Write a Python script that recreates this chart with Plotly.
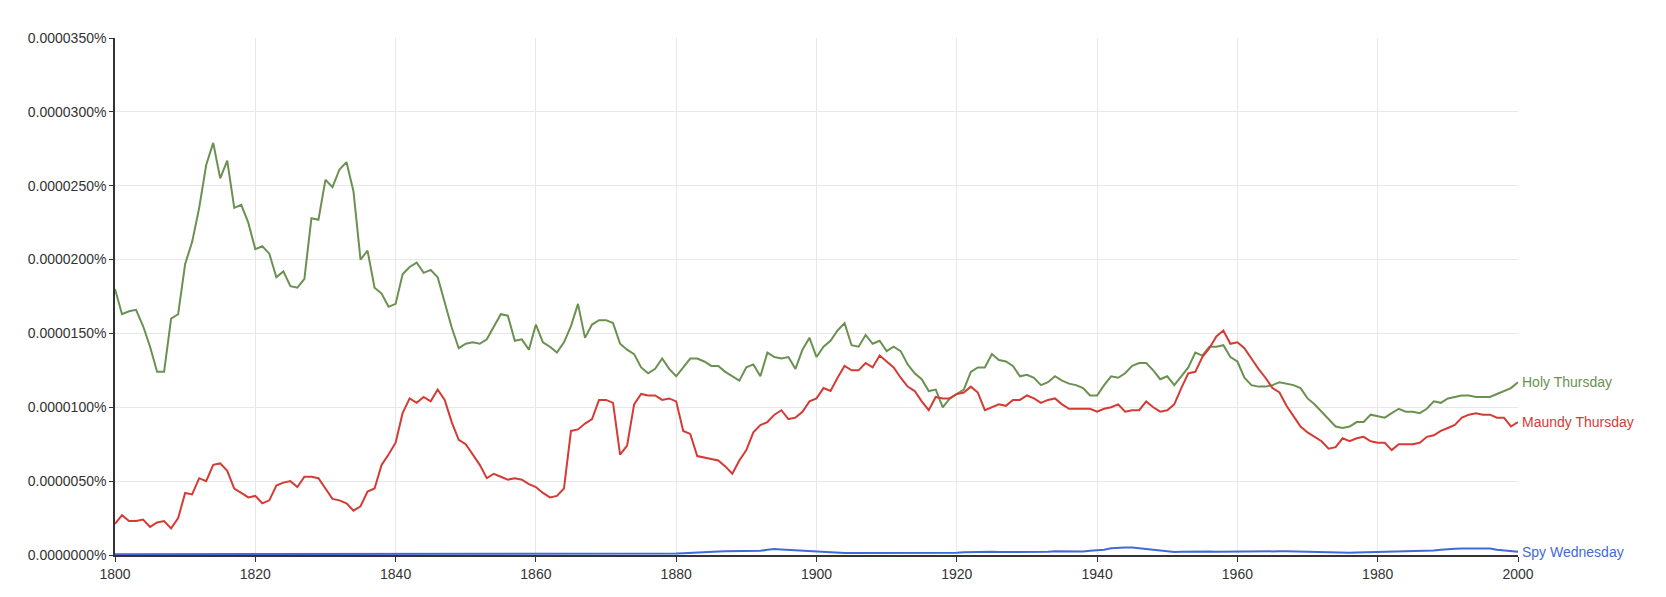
import plotly.graph_objects as go

years = list(range(1800, 2001))
# values in units of 1e-7 percent
holy = [180,163,165,166,155,141,124,124,160,163,197,212,235,264,279,255,267,235,237,225,
        207,209,204,188,192,182,181,187,228,227,254,249,261,266,246,200,206,181,177,168,
        170,190,195,198,191,193,188,171,154,140,143,144,143,146,155,163,162,145,146,139,
        156,144,141,137,144,155,170,147,156,159,159,157,143,139,136,127,123,126,133,126,
        121,127,133,133,131,128,128,124,121,118,127,129,121,137,134,133,134,126,139,147,
        134,141,145,152,157,142,141,149,143,145,138,141,138,129,123,119,111,112,100,106,
        109,112,124,127,127,136,132,131,128,121,122,120,115,117,121,118,116,115,113,108,
        108,115,121,120,123,128,130,130,125,119,121,115,121,127,137,135,141,141,142,134,
        131,120,115,114,114,115,117,116,115,113,106,102,97,92,87,86,87,90,90,95,
        94,93,96,99,97,97,96,99,104,103,106,107,108,108,107,107,107,109,111,113,117]
maundy = [21,27,23,23,24,19,22,23,18,25,42,41,52,50,61,62,57,45,42,39,
          40,35,37,47,49,50,46,53,53,52,45,38,37,35,30,33,43,45,61,68,
          76,96,106,103,107,104,112,105,90,78,75,68,61,52,55,53,51,52,51,48,
          46,42,39,40,45,84,85,89,92,105,105,103,68,74,102,109,108,108,105,106,
          104,84,82,67,66,65,64,60,55,64,71,83,88,90,95,98,92,93,97,104,
          106,113,111,120,128,125,125,130,127,135,131,127,120,114,111,104,98,107,106,106,
          109,110,114,110,98,100,102,101,105,105,108,106,103,105,106,102,99,99,99,99,
          97,99,100,102,97,98,98,104,100,97,98,102,113,123,124,134,140,148,152,143,
          144,140,133,126,120,113,110,101,94,87,83,80,77,72,73,79,77,79,80,77,
          76,76,71,75,75,75,76,80,81,84,86,88,93,95,96,95,95,93,93,87,90]
spy = [0.5,0.5,0.5,0.5,0.5,0.5,0.5,0.5,0.5,0.5,0.5,0.5,0.5,0.5,0.5,0.5,0.5,0.5,0.5,0.5,
       0.5,0.5,0.5,0.5,0.5,0.5,0.5,0.5,0.5,0.5,0.5,0.5,0.5,0.5,0.5,0.5,0.5,0.5,0.5,0.5,
       0.5,0.5,0.5,0.5,0.5,0.5,0.5,0.5,0.5,0.5,0.5,0.5,0.5,0.5,0.5,0.5,0.5,0.5,0.5,0.5,
       0.5,0.5,0.5,0.5,0.5,0.5,0.6,0.6,0.7,0.7,0.7,0.7,0.7,0.7,0.8,0.8,0.8,0.8,0.9,0.9,
       1.0,1.2,1.5,1.8,2.0,2.2,2.4,2.5,2.6,2.8,3.0,3.0,2.8,3.5,4.0,3.8,3.5,3.2,3.0,2.8,
       2.5,2.0,1.6,1.4,1.3,1.3,1.3,1.3,1.3,1.4,1.5,1.5,1.4,1.3,1.2,1.1,1.0,1.0,1.0,1.2,
       1.5,1.8,2.0,2.0,2.0,2.2,2.0,2.0,2.0,2.2,2.0,1.8,2.0,2.2,2.5,2.4,2.3,2.2,2.4,2.8,
       3.0,3.5,4.5,5.0,5.0,5.0,4.5,4.0,3.5,2.5,2.0,2.0,2.2,2.3,2.5,2.4,2.3,2.2,2.2,2.0,
       2.0,2.0,2.0,2.0,2.2,2.4,2.5,2.6,2.5,2.3,2.0,1.8,1.6,1.5,1.5,1.6,1.6,1.7,1.8,1.8,
       1.8,1.8,1.9,2.0,2.2,2.4,2.5,2.7,3.0,3.5,4.0,4.2,4.4,4.5,4.6,4.6,4.4,3.5,3.0,2.5,2.2]

series = [("Holy Thursday", holy, "#6b9151"),
          ("Maundy Thursday", maundy, "#d43b35"),
          ("Spy Wednesday", spy, "#3f6ad8")]

ytick_vals = [0, 50, 100, 150, 200, 250, 300, 350]
ytick_text = ["%.7f%%" % (v * 1e-7) for v in ytick_vals]

fig = go.Figure()
for name, vals, col in series:
    fig.add_trace(go.Scatter(x=years, y=vals, mode="lines", name=name,
                             line=dict(color=col, width=2)))
    fig.add_annotation(x=years[-1], y=vals[-1], text=name, xanchor="left", xshift=2,
                       showarrow=False, font=dict(color=col, size=14, family="Arial"))

fig.add_annotation(text="(click on line/label for focus)", xref="paper", yref="paper",
                   x=0.5, y=-0.075, yanchor="top", showarrow=False,
                   font=dict(size=9, color="#333"))

fig.update_layout(
    width=1666, height=597, showlegend=False,
    margin=dict(l=107, r=156, t=30, b=50),
    plot_bgcolor="white", paper_bgcolor="white",
    font=dict(family="Arial", size=14, color="#333"),
    xaxis=dict(range=[1800, 2000], tickvals=list(range(1800, 2001, 20)),
               showgrid=True, gridcolor="#e8e8e8", zeroline=False,
               showline=True, linecolor="#333", linewidth=1.5,
               ticks="outside", ticklen=5, tickcolor="#333"),
    yaxis=dict(range=[0, 350], tickvals=ytick_vals, ticktext=ytick_text,
               showgrid=True, gridcolor="#e8e8e8", zeroline=False,
               showline=True, linecolor="#333", linewidth=1.5,
               ticks="outside", ticklen=4, tickcolor="#333"),
)
fig.write_html("out.html")
